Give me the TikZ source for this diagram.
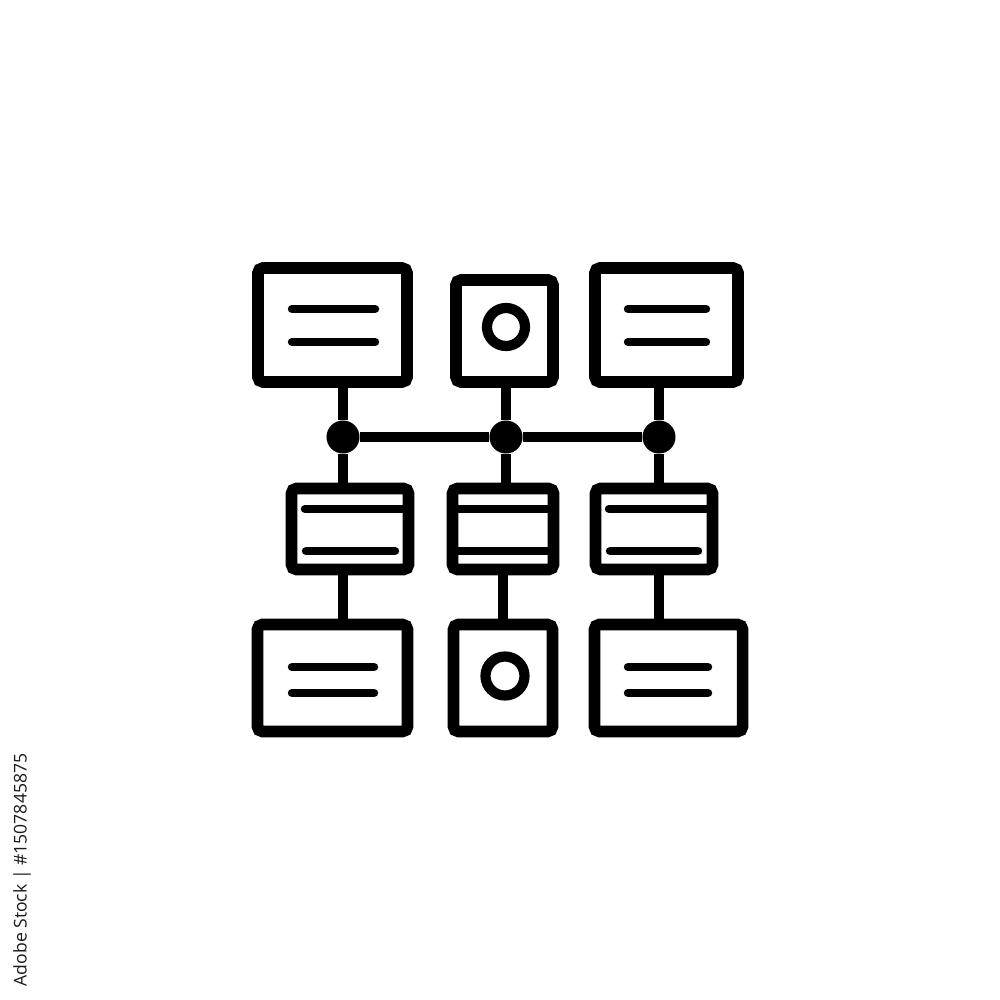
\documentclass[tikz,border=0pt]{standalone}
\usepackage{fontspec}
\newfontfamily\stockfont{Open Sans}
\begin{document}
\begin{tikzpicture}[x=0.01cm, y=-0.01cm, line cap=round,
    card/.style={draw, rectangle, rounded corners=0.05cm, line width=3.3pt, minimum width=#1, inner sep=0pt},
    textrule/.style={line width=2.4pt},
    wire/.style={line width=3pt, line cap=butt},
    joint/.style={circle, fill, minimum size=0.33cm, inner sep=0pt}]
    \useasboundingbox (0,0) rectangle (1000,1000);
    % top row
    \node[card=1.49cm, minimum height=1.14cm] (tl) at (332.5,325) {};
    \node[card=0.97cm, minimum height=1.02cm] (tm) at (504.5,331) {};
    \node[card=1.43cm, minimum height=1.14cm] (tr) at (666.5,325) {};
    % middle row
    \node[card=1.17cm, minimum height=0.81cm] (ml) at (350,529) {};
    \node[card=1.01cm, minimum height=0.81cm] (mm) at (503,529) {};
    \node[card=1.17cm, minimum height=0.81cm] (mr) at (654,529) {};
    % bottom row
    \node[card=1.50cm, minimum height=1.07cm] (bl) at (332.5,678) {};
    \node[card=0.99cm, minimum height=1.07cm] (bm) at (503,678) {};
    \node[card=1.48cm, minimum height=1.07cm] (br) at (668.5,678) {};
    % bus
    \node[joint] (jl) at (343,437) {};
    \node[joint] (jm) at (506,437) {};
    \node[joint] (jr) at (659,437) {};
    \draw[wire] (jl) -- (jm) -- (jr);
    \draw[wire] (jl |- tl.south) -- (jl) -- (jl |- ml.north);
    \draw[wire] (jm |- tm.south) -- (jm) -- (jm |- mm.north);
    \draw[wire] (jr |- tr.south) -- (jr) -- (jr |- mr.north);
    \draw[wire] (ml.south -| jl) -- (bl.north -| jl);
    \draw[wire] (503,575) coordinate (mmb) -- (mmb |- bm.north);
    \draw[wire] (ml.south -| jr) -- (bl.north -| jr);
    % text lines
    \draw[textrule] (292,309) -- (375,309) (292,342) -- (375,342);
    \draw[textrule] (628,309) -- (706,309) (628,342) -- (706,342);
    \draw[textrule] (292,667) -- (374,667) (292,693) -- (374,693);
    \draw[textrule] (628,667) -- (708,667) (628,693) -- (708,693);
    \draw[textrule] (305,509) -- (405,509) (306,551) -- (395,551);
    \draw[textrule] (609,509) -- (709,509) (610,551) -- (698,551);
    \draw[textrule, line cap=butt] (454,509) -- (552,509) (454,551) -- (552,551);
    % rings
    \draw[line width=2.9pt] (506,327) circle (0.19cm);
    \draw[line width=2.9pt] (505,676) circle (0.195cm);
    % credit
    \node[rotate=90, font=\stockfont\fontsize{5pt}{6pt}\selectfont, text=black!90, inner sep=0pt] (credit) at (22,870) {Adobe Stock | \#1507845875};
\end{tikzpicture}
\end{document}
